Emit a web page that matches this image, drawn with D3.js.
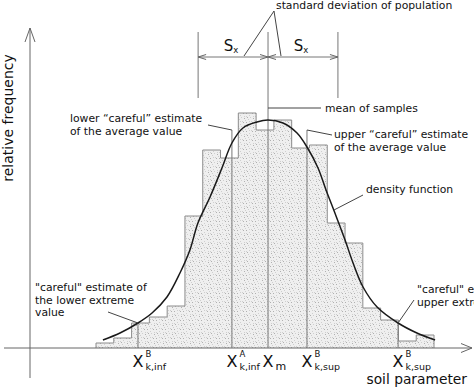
<!DOCTYPE html>
<html>
<head>
<meta charset="utf-8">
<script src="https://cdn.jsdelivr.net/npm/d3@7"></script>
<style>
  body { margin: 0; background: #fff; }
  svg { display: block; }
  text { font-family: "DejaVu Sans", Verdana, sans-serif; fill: #111; }
</style>
</head>
<body>
<svg width="474" height="387"></svg>
<script>
// histogram classes (bin index 0..18) and relative frequency
let binFreq = [5, 10, 25, 31, 42, 132, 198, 190, 235, 218, 228, 200, 203, 125, 105, 40, 28, 7, 13];

// density function, sampled from the drawn curve
let densityX = [0.39, 1.35, 2.36, 3.15, 3.99, 4.72, 5.28, 5.73, 6.41, 7.08, 7.64, 8.26, 9.05, 9.67,
  10.51, 11.30, 11.86, 12.48, 12.93, 13.43, 14.00, 14.45, 15.01, 15.80, 16.98, 18.04, 19.06];
let densityY = [8, 15, 25, 35, 51, 75, 98, 125, 151, 180, 205, 220, 226, 228,
  225, 215, 201, 180, 158, 135, 108, 85, 61, 41, 25, 15, 8];

// characteristic values on the soil parameter axis
let meanValue = 9.67;
let sdValue = 3.93;
let markerPos = [2.36, 7.64, 9.67, 11.86, 16.98];
let markerSup = ["B", "A", "", "B", "B"];
let markerSub = ["k,inf", "k,inf", "m", "k,sup", "k,sup"];

let noteSize = 10.8;

function render() {
  let svg = d3.select("svg");

  let x = d3.scaleLinear().domain([0, binFreq.length]).range([96, 434]);
  let y = d3.scaleLinear().domain([0, 320]).range([348, 28]);

  addPattern(svg);
  renderBars(svg, x, y);
  renderAxes(svg, y);
  renderMarkers(svg, x, y);
  renderCurve(svg, x, y);
  renderDeviation(svg, x, y);
  renderNotes(svg, x, y);
}

function addPattern(svg) {
  let pat = svg.append("defs").append("pattern")
    .attr("id", "stipple")
    .attr("width", 9).attr("height", 9)
    .attr("patternUnits", "userSpaceOnUse");
  pat.append("rect").attr("width", 9).attr("height", 9).attr("fill", "#efefef");
  let dots = [[1, 1], [5, 2], [8, 4], [3, 5], [6, 7], [1, 8], [4, 0], [7, 0], [2, 3], [0, 5], [6, 4], [3, 8]];
  pat.selectAll("rect.dot")
    .data(dots)
    .enter()
    .append("rect")
    .attr("class", "dot")
    .attr("x", d => d[0]).attr("y", d => d[1])
    .attr("width", 1).attr("height", 1)
    .attr("fill", (_, i) => i % 3 === 0 ? "#b0b0b0" : "#cfcfcf");
}

function openArrow(g, tx, ty, dx, dy, len, half) {
  // dx,dy: unit direction the arrow points to
  let bx = tx - dx * len, by = ty - dy * len;
  g.append("path")
    .attr("d", `M${bx - dy * half},${by + dx * half}L${tx},${ty}L${bx + dy * half},${by - dx * half}`)
    .attr("fill", "none")
    .attr("stroke", "#666")
    .attr("stroke-width", 1);
}

function renderAxes(svg, y) {
  let g = svg.append("g").attr("class", "axes");
  let y0 = y(0);

  g.append("line")
    .attr("x1", 4).attr("y1", y0).attr("x2", 472).attr("y2", y0)
    .attr("stroke", "#666");
  openArrow(g, 472, y0, 1, 0, 11, 4.5);

  g.append("line")
    .attr("x1", 30).attr("y1", 378).attr("x2", 30).attr("y2", 28)
    .attr("stroke", "#666");
  openArrow(g, 30, 28, 0, -1, 14, 5);

  g.append("text")
    .attr("transform", `translate(13, 118) rotate(-90)`)
    .attr("text-anchor", "middle")
    .attr("font-size", 14)
    .text("relative frequency");

  g.append("text")
    .attr("x", 467).attr("y", 384)
    .attr("text-anchor", "end")
    .attr("font-size", 13.8)
    .text("soil parameter");
}

function renderBars(svg, x, y) {
  let n = binFreq.length;
  let pts = [[0, 0]].concat(binFreq.map((d, i) => [i, d]), [[n, binFreq[n - 1]], [n, 0]]);
  let step = d3.line()
    .x(d => x(d[0]))
    .y(d => y(d[1]))
    .curve(d3.curveStepAfter);

  let g = svg.append("g").attr("class", "bars");
  g.append("path")
    .attr("d", step(pts) + "Z")
    .attr("fill", "url(#stipple)")
    .attr("stroke", "none");
  g.append("path")
    .attr("d", step(pts))
    .attr("fill", "none")
    .attr("stroke", "#8c8c8c")
    .attr("stroke-width", 1);
}

function renderCurve(svg, x, y) {
  let pts = densityX.map((d, i) => [d, densityY[i]]);
  let line = d3.line()
    .x(d => x(d[0]))
    .y(d => y(d[1]))
    .curve(d3.curveCatmullRom);

  svg.append("path")
    .attr("d", line(pts))
    .attr("fill", "none")
    .attr("stroke", "#1a1a1a")
    .attr("stroke-width", 1.5);
}

function renderMarkers(svg, x, y) {
  let g = svg.append("g").attr("class", "markers");
  // where each marker line stops (its leader end)
  let tops = [25, 218, 316, 218, 25];

  g.selectAll("line")
    .data(markerPos)
    .enter()
    .append("line")
    .attr("x1", d => x(d)).attr("x2", d => x(d))
    .attr("y1", y(0))
    .attr("y2", (_, i) => y(tops[i]))
    .attr("stroke", "#777")
    .attr("stroke-width", 1);

  markerPos.forEach((d, i) => {
    let cx = x(d);
    g.append("text")
      .attr("x", cx).attr("y", 367)
      .attr("text-anchor", "middle")
      .attr("font-size", 16)
      .text("X");
    if (markerSup[i]) {
      g.append("text")
        .attr("x", cx + 7.5).attr("y", 357)
        .attr("font-size", 8.5)
        .text(markerSup[i]);
    }
    g.append("text")
      .attr("x", cx + 7.5).attr("y", 370)
      .attr("font-size", markerSub[i] === "m" ? 11 : 9.5)
      .text(markerSub[i]);
  });
}

function renderDeviation(svg, x, y) {
  let g = svg.append("g").attr("class", "deviation");
  let xl = x(meanValue - sdValue), xm = x(meanValue), xr = x(meanValue + sdValue);
  let dimY = 57;

  [xl, xr].forEach(px => {
    g.append("line")
      .attr("x1", px).attr("x2", px).attr("y1", 32).attr("y2", 98)
      .attr("stroke", "#777");
  });
  g.append("line")
    .attr("x1", xm).attr("x2", xm).attr("y1", 32).attr("y2", y(316))
    .attr("stroke", "#777");

  g.append("line")
    .attr("x1", xl).attr("x2", xr).attr("y1", dimY).attr("y2", dimY)
    .attr("stroke", "#777");
  openArrow(g, xl, dimY, -1, 0, 8, 2.5);
  openArrow(g, xm, dimY, 1, 0, 8, 2.5);
  openArrow(g, xm, dimY, -1, 0, 8, 2.5);
  openArrow(g, xr, dimY, 1, 0, 8, 2.5);

  [(xl + xm) / 2, (xm + xr) / 2].forEach(px => {
    let t = g.append("text")
      .attr("x", px - 2).attr("y", 51)
      .attr("text-anchor", "middle")
      .attr("font-size", 15);
    t.append("tspan").text("S");
    t.append("tspan").attr("font-size", 8.5).attr("dy", 2).text("x");
  });

  // leaders from the title to both dimension lines
  [244, 281].forEach(px => {
    g.append("line")
      .attr("x1", 274).attr("y1", 11).attr("x2", px).attr("y2", dimY - 1)
      .attr("stroke", "#444");
  });
  g.append("text")
    .attr("x", 276).attr("y", 9)
    .attr("font-size", noteSize)
    .text("standard deviation of population");
}

function renderNotes(svg, x, y) {
  let g = svg.append("g").attr("class", "notes");
  let notes = [
    {lines: ["mean of samples"], tx: 325, ty: 112, path: [[x(meanValue), 108], [321, 108]]},
    {lines: ["upper \u201ccareful\u201d estimate", "of the average value"], tx: 334, ty: 138,
      path: [[332, 135], [x(markerPos[3]), y(218)]]},
    {lines: ["lower \u201ccareful\u201d estimate", "of the average value"], tx: 70, ty: 122,
      path: [[208, 125], [x(markerPos[1]), y(218)]]},
    {lines: ["density function"], tx: 366, ty: 193, path: [[363, 195], [334, 210]]},
    {lines: ["\"careful\" estimate of", "the lower extreme", "value"], tx: 35, ty: 291,
      path: [[108, 312], [x(markerPos[0]), y(25)]]},
    {lines: ["\"careful\" estimate of the", "upper extreme value"], tx: 417, ty: 293,
      path: [[414, 300], [x(markerPos[4]), y(25)]]},
  ];

  notes.forEach(n => {
    g.append("path")
      .attr("d", d3.line()(n.path))
      .attr("fill", "none")
      .attr("stroke", "#444");
    let t = g.append("text")
      .attr("x", n.tx).attr("y", n.ty)
      .attr("font-size", noteSize);
    n.lines.forEach((l, i) => {
      t.append("tspan")
        .attr("x", n.tx)
        .attr("dy", i === 0 ? 0 : 12.5)
        .text(l);
    });
  });
}

render();
</script>
</body>
</html>
